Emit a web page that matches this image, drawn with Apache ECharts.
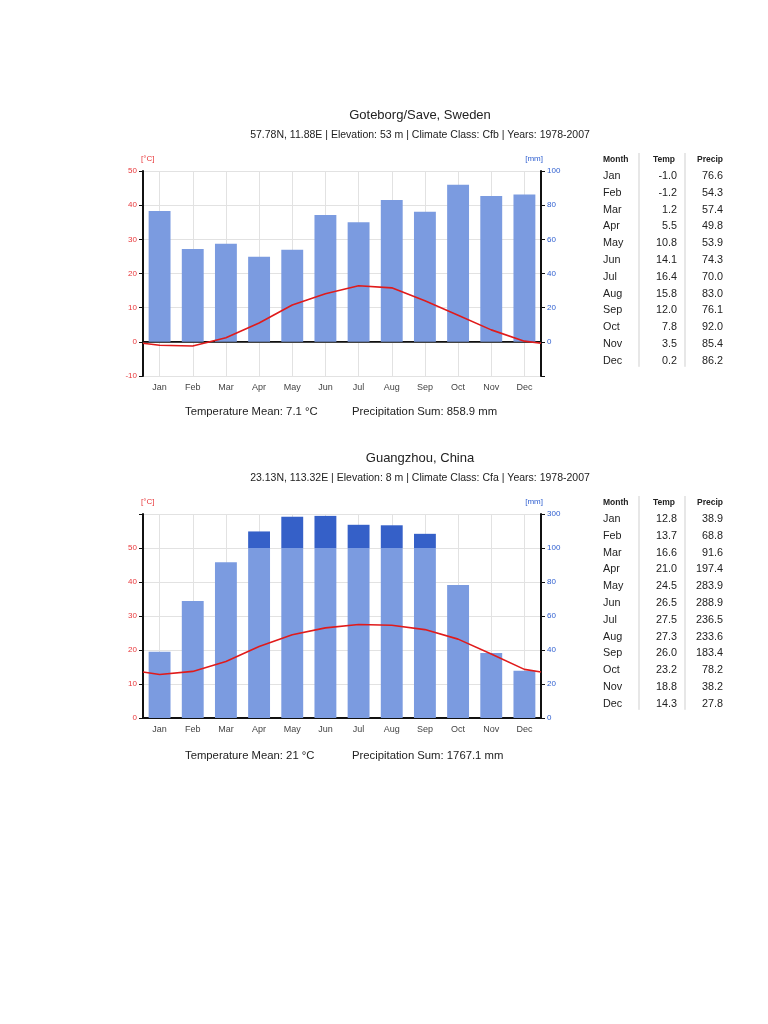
<!DOCTYPE html>
<html>
<head>
<meta charset="utf-8">
<script src="https://cdn.jsdelivr.net/npm/echarts@6/dist/echarts.min.js"></script>
<style>
  html, body { margin: 0; padding: 0; background: #fff; }
  #main { width: 768px; height: 1024px; }
</style>
</head>
<body>
<div id="main"></div>
<script>
// month labels
var months = ['Jan', 'Feb', 'Mar', 'Apr', 'May', 'Jun', 'Jul', 'Aug', 'Sep', 'Oct', 'Nov', 'Dec'];

// Goteborg/Save
var gbgTitle = 'Goteborg/Save, Sweden';
var gbgSub = '57.78N, 11.88E | Elevation: 53 m | Climate Class: Cfb | Years: 1978-2007';
var gbgTemp = [-1.0, -1.2, 1.2, 5.5, 10.8, 14.1, 16.4, 15.8, 12.0, 7.8, 3.5, 0.2];
var gbgPrecip = [76.6, 54.3, 57.4, 49.8, 53.9, 74.3, 70.0, 83.0, 76.1, 92.0, 85.4, 86.2];
var gbgMean = 'Temperature Mean: 7.1 °C';
var gbgSum = 'Precipitation Sum: 858.9 mm';

// Guangzhou
var gzTitle = 'Guangzhou, China';
var gzSub = '23.13N, 113.32E | Elevation: 8 m | Climate Class: Cfa | Years: 1978-2007';
var gzTemp = [12.8, 13.7, 16.6, 21.0, 24.5, 26.5, 27.5, 27.3, 26.0, 23.2, 18.8, 14.3];
var gzPrecip = [38.9, 68.8, 91.6, 197.4, 283.9, 288.9, 236.5, 233.6, 183.4, 78.2, 38.2, 27.8];
var gzMean = 'Temperature Mean: 21 °C';
var gzSum = 'Precipitation Sum: 1767.1 mm';

var FONT = '"Liberation Sans", Arial, sans-serif';
var RED = '#e8373a';
var BLUE = '#2f5fd0';

var chart = echarts.init(document.getElementById('main'));

var grids = [], xAxes = [], yAxes = [], series = [], graphics = [];

function txt(x, y, text, size, color, align, weight) {
    graphics.push({
        type: 'text', x: x, y: y, silent: true,
        style: {
            text: text, fill: color || '#222', fontSize: size, fontFamily: FONT,
            fontWeight: weight || 'normal',
            textAlign: align || 'left', textVerticalAlign: 'middle'
        }
    });
}

// one climate panel: top = y of plot top
function panel(k, cfg) {
    var top = cfg.top;
    grids.push({ left: 143, top: top, width: 398, height: cfg.height });

    // category axis for bars
    xAxes.push({
        type: 'category', gridIndex: k, data: months, boundaryGap: true,
        axisLine: { lineStyle: { color: '#111', width: 2 } },
        axisTick: { show: false },
        axisLabel: { color: '#444', fontSize: 9, fontFamily: FONT, margin: 7 },
        splitLine: { show: true, alignWithLabel: true, lineStyle: { color: '#e2e2e2' } }
    });
    // value axis for the temperature line (runs edge to edge)
    xAxes.push({
        type: 'value', gridIndex: k, min: 0, max: 12, show: false
    });

    yAxes.push({
        type: 'value', gridIndex: k, position: 'left',
        min: cfg.tMin, max: cfg.tMax, interval: 10,
        name: '[°C]', nameLocation: 'end', nameGap: 8,
        nameTextStyle: { color: RED, fontSize: 8, fontFamily: FONT, align: 'left', padding: [0, 0, 0, -2] },
        axisLine: { show: true, lineStyle: { color: '#111', width: 2 } },
        axisTick: { show: true, length: 4, lineStyle: { color: '#111' } },
        axisLabel: {
            color: RED, fontSize: 8, fontFamily: FONT, margin: 6,
            formatter: function (v) { return v > cfg.tLabelMax ? '' : v; }
        },
        splitLine: { show: true, lineStyle: { color: '#e2e2e2' } }
    });
    yAxes.push({
        type: 'value', gridIndex: k, position: 'right',
        min: cfg.pMin, max: cfg.pMax, interval: 20,
        name: '[mm]', nameLocation: 'end', nameGap: 8,
        nameTextStyle: { color: BLUE, fontSize: 8, fontFamily: FONT, align: 'right', padding: [0, -2, 0, 0] },
        axisLine: { show: true, lineStyle: { color: '#111', width: 2 } },
        axisTick: { show: true, length: 4, lineStyle: { color: '#111' } },
        axisLabel: {
            color: BLUE, fontSize: 8, fontFamily: FONT, margin: 6,
            formatter: function (v) {
                if (v < 0) return '';
                return v <= 100 ? v : 100 + (v - 100) * 10;
            }
        },
        splitLine: { show: false }
    });

    var yl = 2 * k, yr = 2 * k + 1, xc = 2 * k, xv = 2 * k + 1;
    // bars up to 100 mm
    series.push({
        type: 'bar', xAxisIndex: xc, yAxisIndex: yr, stack: 'p' + k,
        barWidth: '66%', silent: true,
        itemStyle: { color: '#7b9be0' },
        data: cfg.precip.map(function (p) { return Math.min(p, 100); })
    });
    // part above 100 mm, compressed 1:10
    series.push({
        type: 'bar', xAxisIndex: xc, yAxisIndex: yr, stack: 'p' + k,
        barWidth: '66%', silent: true,
        itemStyle: { color: '#3560c8' },
        data: cfg.precip.map(function (p) { return p > 100 ? (p - 100) / 10 : 0; })
    });

    // temperature line, wrapping Dec->Jan at the edges
    var edge = (cfg.temp[0] + cfg.temp[11]) / 2;
    var pts = [[0, edge]];
    cfg.temp.forEach(function (t, i) { pts.push([i + 0.5, t]); });
    pts.push([12, edge]);
    var line = {
        type: 'line', xAxisIndex: xv, yAxisIndex: yl, data: pts,
        showSymbol: false, silent: true, z: 5,
        lineStyle: { color: '#e01b1b', width: 1.6 }
    };
    if (cfg.tMin < 0) {
        line.markLine = {
            silent: true, symbol: 'none', label: { show: false },
            lineStyle: { color: '#444', width: 1, type: 'solid' },
            data: [{ yAxis: 0 }]
        };
    }
    series.push(line);

    // headings and footer
    txt(420, cfg.titleY, cfg.title, 13, '#222', 'center');
    txt(420, cfg.titleY + 20, cfg.sub, 10.5, '#222', 'center');
    txt(185, cfg.footY, cfg.mean, 11.3, '#222', 'left');
    txt(352, cfg.footY, cfg.sum, 11.3, '#222', 'left');

    // side table
    var hy = cfg.tableY;
    txt(603, hy, 'Month', 8.5, '#222', 'left', 'bold');
    txt(675, hy, 'Temp', 8.5, '#222', 'right', 'bold');
    txt(723, hy, 'Precip', 8.5, '#222', 'right', 'bold');
    months.forEach(function (m, i) {
        var y = hy + 16 + i * 16.8;
        txt(603, y, m, 10.8, '#222', 'left');
        txt(677, y, cfg.temp[i].toFixed(1), 10.8, '#222', 'right');
        txt(723, y, cfg.precip[i].toFixed(1), 10.8, '#222', 'right');
    });
    [639, 685].forEach(function (x) {
        graphics.push({
            type: 'line', silent: true,
            shape: { x1: x, y1: hy - 7, x2: x, y2: hy + 16 + 11 * 16.8 + 6 },
            style: { stroke: '#cfcfcf', lineWidth: 1 }
        });
    });
}

panel(0, {
    top: 171, height: 205, tMin: -10, tMax: 50, tLabelMax: 50, pMin: -20, pMax: 100,
    temp: gbgTemp, precip: gbgPrecip, title: gbgTitle, sub: gbgSub,
    mean: gbgMean, sum: gbgSum, titleY: 115, footY: 412, tableY: 160
});
panel(1, {
    top: 514, height: 204, tMin: 0, tMax: 60, tLabelMax: 50, pMin: 0, pMax: 120,
    temp: gzTemp, precip: gzPrecip, title: gzTitle, sub: gzSub,
    mean: gzMean, sum: gzSum, titleY: 458, footY: 756, tableY: 503
});

chart.setOption({
    backgroundColor: '#fff',
    animation: false,
    grid: grids,
    xAxis: xAxes,
    yAxis: yAxes,
    series: series,
    graphic: { elements: graphics }
});
</script>
</body>
</html>
